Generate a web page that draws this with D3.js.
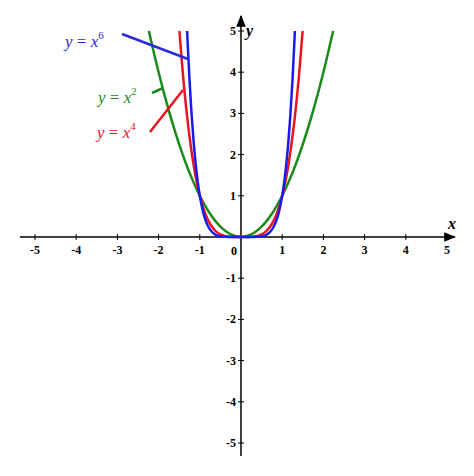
<!DOCTYPE html>
<html><head><meta charset="utf-8">
<script src="https://cdn.jsdelivr.net/npm/d3@7"></script>
<style>body{margin:0;background:#fff}</style>
</head><body>
<svg id="chart" width="474" height="476"></svg>
<script>
// sample points (left half; mirrored for right half)
var x2 = [-2.236, -2, -1.75, -1.5, -1.25, -1, -0.75, -0.5, -0.25, 0];
var y2 = [5, 4, 3.0625, 2.25, 1.5625, 1, 0.5625, 0.25, 0.0625, 0];
var x4 = [-1.495, -1.4, -1.3, -1.2, -1.1, -1, -0.9, -0.8, -0.7, -0.6, -0.5, -0.4, -0.2, 0];
var y4 = [5, 3.84, 2.856, 2.074, 1.464, 1, 0.656, 0.41, 0.24, 0.13, 0.0625, 0.0256, 0.0016, 0];
var x6 = [-1.308, -1.25, -1.2, -1.15, -1.1, -1.05, -1, -0.9, -0.8, -0.7, -0.6, -0.5, -0.3, 0];
var y6 = [5, 3.815, 2.986, 2.313, 1.772, 1.34, 1, 0.531, 0.262, 0.118, 0.0467, 0.0156, 0.0007, 0];
var ticks = [-5, -4, -3, -2, -1, 1, 2, 3, 4, 5];

var svg = d3.select("#chart");
var x = d3.scaleLinear().domain([-5, 5]).range([35, 447]);
var y = d3.scaleLinear().domain([-5, 5]).range([443, 31]);
var font = "'Liberation Serif', 'Times New Roman', serif";

// axes lines with arrows
svg.append("defs").append("marker").attr("id", "arr").attr("viewBox", "0 0 10 10")
  .attr("refX", 9).attr("refY", 5).attr("markerWidth", 8).attr("markerHeight", 8)
  .attr("orient", "auto").append("path").attr("d", "M0,1L10,5L0,9Z").attr("fill", "#000");
svg.append("line").attr("x1", 20).attr("x2", 455).attr("y1", y(0)).attr("y2", y(0))
  .attr("stroke", "#000").attr("stroke-width", 1.5).attr("marker-end", "url(#arr)");
svg.append("line").attr("x1", x(0)).attr("x2", x(0)).attr("y1", 456).attr("y2", 16)
  .attr("stroke", "#000").attr("stroke-width", 1.5).attr("marker-end", "url(#arr)");

// ticks and labels
ticks.forEach(function (t) {
  svg.append("line").attr("x1", x(t)).attr("x2", x(t)).attr("y1", y(0) - 3).attr("y2", y(0) + 3).attr("stroke", "#000");
  svg.append("line").attr("y1", y(t)).attr("y2", y(t)).attr("x1", x(0) - 3).attr("x2", x(0) + 3).attr("stroke", "#000");
  svg.append("text").attr("x", x(t)).attr("y", y(0) + 17).attr("text-anchor", "middle")
    .attr("font-family", font).attr("font-weight", "bold").attr("font-size", 12).text(t);
  svg.append("text").attr("x", x(0) - 5).attr("y", y(t) + 4).attr("text-anchor", "end")
    .attr("font-family", font).attr("font-weight", "bold").attr("font-size", 12).text(t);
});
svg.append("text").attr("x", x(0) - 4).attr("y", y(0) + 18).attr("text-anchor", "end")
  .attr("font-family", font).attr("font-weight", "bold").attr("font-size", 12).text("0");
svg.append("text").attr("x", 448).attr("y", 229).attr("font-family", font).attr("font-style", "italic")
  .attr("font-weight", "bold").attr("font-size", 16).text("x");
svg.append("text").attr("x", 246).attr("y", 36).attr("font-family", font).attr("font-style", "italic")
  .attr("font-weight", "bold").attr("font-size", 16).text("y");

// curves
var line = d3.line().x(function (d) { return x(d[0]); }).y(function (d) { return y(d[1]); })
  .curve(d3.curveCatmullRom);
function pts(xs, ys) {
  var left = xs.map(function (v, i) { return [v, ys[i]]; });
  var right = left.slice(0, -1).reverse().map(function (p) { return [-p[0], p[1]]; });
  return left.concat(right);
}
var curves = [[x2, y2, "#1a8a1a"], [x4, y4, "#e8141e"], [x6, y6, "#1a1aee"]];
curves.forEach(function (c) {
  svg.append("path").attr("d", line(pts(c[0], c[1]))).attr("fill", "none")
    .attr("stroke", c[2]).attr("stroke-width", 2.5);
});

// labels with pointer lines
var labels = [
  { t: "6", c: "#2a2ad8", tx: 65, ty: 47, l: [122, 34, 188, 59] },
  { t: "2", c: "#1a8a1a", tx: 98, ty: 103, l: [152, 93, 163, 88] },
  { t: "4", c: "#e8141e", tx: 97, ty: 138, l: [150, 132, 183, 90] }
];
labels.forEach(function (d) {
  svg.append("line").attr("x1", d.l[0]).attr("y1", d.l[1]).attr("x2", d.l[2]).attr("y2", d.l[3])
    .attr("stroke", d.c).attr("stroke-width", 2.5);
  var t = svg.append("text").attr("x", d.tx).attr("y", d.ty).attr("font-family", font)
    .attr("font-size", 17).attr("fill", d.c);
  t.append("tspan").attr("font-style", "italic").text("y");
  t.append("tspan").text(" = ");
  t.append("tspan").attr("font-style", "italic").text("x");
  t.append("tspan").attr("font-size", 11).attr("dy", -8).text(d.t);
});
</script>
</body></html>
